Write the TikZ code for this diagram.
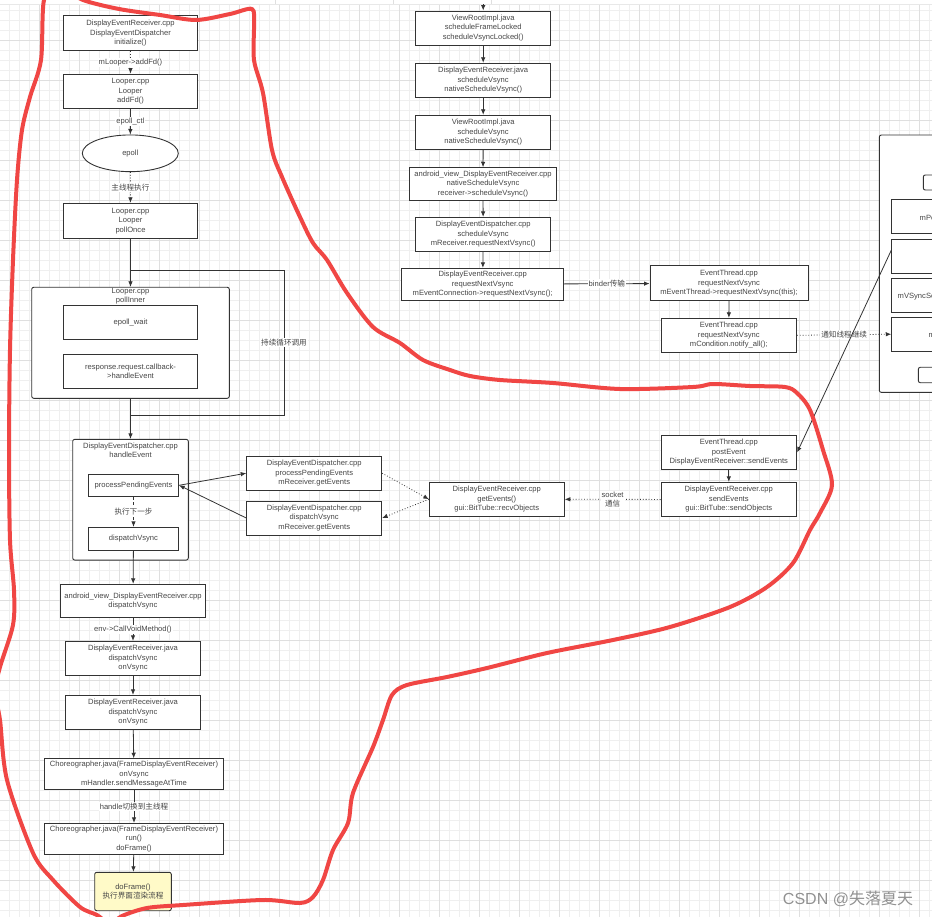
\documentclass[tikz,border=0pt]{standalone}
\usepackage{fontspec}
\setmainfont{Liberation Sans}
\newfontfamily\cjk{Noto Sans CJK SC}
\usetikzlibrary{shapes.geometric,arrows.meta}
\definecolor{boxline}{RGB}{51,51,51}
\definecolor{boxtext}{RGB}{70,70,70}
\definecolor{gridminor}{RGB}{239,239,239}
\definecolor{gridmajor}{RGB}{223,223,223}
\definecolor{redmark}{RGB}{240,70,68}
\definecolor{notefill}{RGB}{255,250,200}
\definecolor{watermark}{RGB}{145,145,145}
\tikzstyle{box}=[rectangle, draw=boxline, line width=.9pt, fill=white, align=center, inner sep=0pt, minimum height=34pt, text=boxtext, font=\fontsize{7.6}{9.5}\selectfont]
\tikzstyle{group}=[box, rounded corners=2pt]
\tikzstyle{flow}=[-{Latex[length=5.5pt,width=4.5pt]}, line width=.8pt, color=boxline]
\tikzstyle{lbl}=[fill=white, inner sep=1pt, text=boxtext, align=center, font=\fontsize{7.6}{9.5}\selectfont]
\begin{document}
\begin{tikzpicture}[x=1pt,y=-1pt]
  \useasboundingbox (0,0) rectangle (932,917);
  \clip (0,0) rectangle (932,917);

  %% Grid paper
  \fill[white] (0,0) rectangle (932,917);
  \foreach \x in {-0.7,9.3,...,935} \draw[gridminor,line width=.8pt] (\x,5) -- (\x,917);
  \foreach \y in {10,20,...,915} \draw[gridminor,line width=.8pt] (0,\y) -- (932,\y);
  \foreach \x in {39.3,79.3,...,935} \draw[gridmajor,line width=.8pt] (\x,5) -- (\x,917);
  \foreach \y in {40,80,...,915} \draw[gridmajor,line width=.8pt] (0,\y) -- (932,\y);
  \draw[gridmajor!80!black!30,line width=.8pt] (0,4.5) -- (932,4.5);
  \foreach \x in {275,393,491} \draw[gridmajor,line width=.8pt] (\x,0) -- (\x,4.5);

  %% Main thread column
  \draw (130.5,33.3) node[box, minimum width=134.4, minimum height=34.7] (L1) {DisplayEventReceiver.cpp\\DisplayEventDispatcher\\initialize()};
  \draw (130.5,91.2) node[box, minimum width=134.4, minimum height=34.3] (L2) {Looper.cpp\\Looper\\addFd()};
  \draw (130.3,153.3) node[box, ellipse, minimum width=96, minimum height=36.7] (L3) {epoll};
  \draw (130.5,220.8) node[box, minimum width=134.4, minimum height=35] (L4) {Looper.cpp\\Looper\\pollOnce};

  \draw (130.5,342.8) node[group, minimum width=197.6, minimum height=111] (G1) {};
  \draw (130.5,287.8) node[lbl, fill=none, inner sep=0pt, anchor=north] (G1t) {Looper.cpp\\pollInner};
  \draw (130.5,322.5) node[box, minimum width=134.4, minimum height=33.6] (G11) {epoll\_wait};
  \draw (130.5,371.3) node[box, minimum width=134.4, minimum height=34] (G12) {response.request.callback-\\>handleEvent};

  \draw (130.5,499.7) node[group, minimum width=115.6, minimum height=120.7] (G2) {};
  \draw (130.5,442.3) node[lbl, fill=none, inner sep=0pt, anchor=north] (G2t) {DisplayEventDispatcher.cpp\\handleEvent};
  \draw (133.5,485.3) node[box, minimum width=90.4, minimum height=22.7] (G21) {processPendingEvents};
  \draw (133.5,539) node[box, minimum width=90.4, minimum height=23.4] (G22) {dispatchVsync};

  \draw (133,600.8) node[box, minimum width=145.4, minimum height=33] (L5) {android\_view\_DisplayEventReceiver.cpp\\dispatchVsync};
  \draw (133,658.5) node[box, minimum width=135.4, minimum height=34.4] (L6) {DisplayEventReceiver.java\\dispatchVsync\\onVsync};
  \draw (133,712.5) node[box, minimum width=135.4, minimum height=34.4] (L7) {DisplayEventReceiver.java\\dispatchVsync\\onVsync};
  \draw (134,774.2) node[box, minimum width=179.4, minimum height=31] (L8) {Choreographer.java(FrameDisplayEventReceiver)\\onVsync\\mHandler.sendMessageAtTime};
  \draw (134,839) node[box, minimum width=179.4, minimum height=31.4] (L9) {Choreographer.java(FrameDisplayEventReceiver)\\run()\\doFrame()};
  \draw (133,891.5) node[box, rounded corners=2pt, fill=notefill, minimum width=76.6, minimum height=38.4] (L10) {doFrame()\\{\cjk 执行界面渲染流程}};

  %% Request column
  \coordinate (M0) at (483.2,4.5);
  \draw (483.2,28) node[box, minimum width=135] (M1) {ViewRootImpl.java\\scheduleFrameLocked\\scheduleVsyncLocked()};
  \draw (483.2,80.3) node[box, minimum width=135] (M2) {DisplayEventReceiver.java\\scheduleVsync\\nativeScheduleVsync()};
  \draw (483.2,132.3) node[box, minimum width=135] (M3) {ViewRootImpl.java\\scheduleVsync\\nativeScheduleVsync()};
  \draw (483,184) node[box, minimum width=147.4, minimum height=32.6] (M4) {android\_view\_DisplayEventReceiver.cpp\\nativeScheduleVsync\\receiver->scheduleVsync()};
  \draw (483.2,234.2) node[box, minimum width=135, minimum height=33.7] (M5) {DisplayEventDispatcher.cpp\\scheduleVsync\\mReceiver.requestNextVsync()};
  \draw (482.7,284.2) node[box, minimum width=162, minimum height=31.7] (M6) {DisplayEventReceiver.cpp\\requestNextVsync\\mEventConnection->requestNextVsync();};

  %% Receive side
  \draw (314.2,473.2) node[box, minimum width=135, minimum height=34.3] (S1) {DisplayEventDispatcher.cpp\\processPendingEvents\\mReceiver.getEvents};
  \draw (314.2,518) node[box, minimum width=135] (S2) {DisplayEventDispatcher.cpp\\dispatchVsync\\mReceiver.getEvents};
  \draw (496.8,499.2) node[box, minimum width=135, minimum height=33.7] (S3) {DisplayEventReceiver.cpp\\getEvents()\\gui::BitTube::recvObjects};

  %% EventThread
  \draw (729,283.3) node[box, minimum width=158, minimum height=34.7] (T1) {EventThread.cpp\\requestNextVsync\\mEventThread->requestNextVsync(this);};
  \draw (728.8,335.3) node[box, minimum width=135.7] (T2) {EventThread.cpp\\requestNextVsync\\mCondition.notify\_all();};
  \draw (728.8,452.5) node[box, minimum width=135.7, minimum height=34.4] (T3) {EventThread.cpp\\postEvent\\DisplayEventReceiver::sendEvents};
  \draw (728.8,499.5) node[box, minimum width=135.7, minimum height=34.4] (T4) {DisplayEventReceiver.cpp\\sendEvents\\gui::BitTube::sendObjects};

  %% Thread loop panel (cut at the edge)
  \draw (960,263.7) node[group, minimum width=161.4, minimum height=257.3] (R0) {};
  \draw (975,182.5) node[group, minimum width=103.4, minimum height=15] (R1) {};
  \draw (960,216.2) node[box, minimum width=136.6, minimum height=34.3] (R2) {};
  \draw (960,256.3) node[box, minimum width=136.6, minimum height=34] (R3) {};
  \draw (960,295.5) node[box, minimum width=136.6, minimum height=34.4] (R4) {};
  \draw (960,334.2) node[box, minimum width=136.6, minimum height=33.7] (R5) {};
  \draw (975,375) node[group, minimum width=113.4, minimum height=15.4] (R6) {};
  \draw (919.5,217.5) node[lbl, fill=none, inner sep=0pt, anchor=west] {mPo};
  \draw (897.5,296.5) node[lbl, fill=none, inner sep=0pt, anchor=west] {mVSyncSc};
  \draw (928.5,335) node[lbl, fill=none, inner sep=0pt, anchor=west] {m};

  %% Main thread flow
  \draw[flow, dotted] (L1) -- node[lbl]{mLooper->addFd()} (L2);
  \draw[flow] (L2) -- node[lbl]{epoll\_ctl} (L3);
  \draw[flow, dotted] (L3) -- node[lbl]{{\cjk 主线程执行}} (L4);
  \draw[flow] (L4) -- (G1);
  \coordinate (P1) at (130.5,270);
  \coordinate (P2) at (130.5,415);
  \coordinate (P3) at (284,415);
  \coordinate (P4) at (284,270);
  \draw[line width=.8pt, color=boxline] (P2) -- (P3) -- node[lbl]{{\cjk 持续循环调用}} (P4) -- (P1);
  \draw[flow] (G1) -- (G2);
  \draw[flow, densely dashed] (G21) -- node[lbl]{{\cjk 执行下一步}} (G22);
  \draw[flow] (G22) -- (L5);
  \draw[flow] (L5) -- node[lbl]{env->CallVoidMethod()} (L6);
  \draw[flow] (L6) -- (L7);
  \draw[flow] (L7) -- (L8);
  \draw[flow] (L8) -- node[lbl]{handle{\cjk 切换到主线程}} (L9);
  \draw[flow] (L9) -- (L10);

  \draw[flow] (G21.east) -- (S1.west);
  \draw[flow] (S2.west) -- (G21.east);
  \draw[flow, dotted] (S1.east) -- (S3.west);
  \draw[flow, dotted] (S3.west) -- (S2.east);

  %% Request flow
  \draw[flow] (M0) -- (M1);
  \draw[flow] (M1) -- (M2);
  \draw[flow] (M2) -- (M3);
  \draw[flow] (M3) -- (M4);
  \draw[flow] (M4) -- (M5);
  \draw[flow] (M5) -- (M6);
  \draw[flow] (M6) -- node[lbl]{binder{\cjk 传输}} (T1);
  \draw[flow] (T1) -- (T2);
  \draw[flow, dotted] (T2.east) -- node[lbl]{{\cjk 通知线程继续}} (R5.west);
  \draw[flow] ([yshift=6pt]R3.west) -- (T3.east);
  \draw[flow] (T3) -- (T4);
  \draw[flow, dotted] (T4) -- node[lbl]{socket\\{\cjk 通信}} (S3);

  %% Hand drawn mark
  \draw[redmark, line width=4pt, line cap=round, line join=round] plot[smooth cycle, tension=0.5] coordinates {
    (83,0) (119,9) (160,15) (196,20) (230,14) (252,9) (254,25) (254,60) (263,93) (272,150) (282,177)
    (300,217) (313,243) (327,260) (347,293) (373,327) (400,343) (423,360) (450,370) (470,376)
    (500,380) (553,383) (620,389) (693,387) (713,384) (750,386) (785,387) (797,393) (810,410)
    (823,450) (832,485) (820,513) (810,530) (793,563) (767,587) (730,607) (670,627) (613,640)
    (547,653) (487,668) (447,677) (407,685) (392,695) (383,720) (373,747) (353,793) (348,823)
    (333,850) (323,880) (313,897) (300,903) (263,900) (183,905) (147,908) (122,916) (110,924)
    (97,915) (80,907) (53,880) (33,853) (7,780) (0,720) (-5,692) (0,667) (13,625) (14,590)
    (10,540) (9,450) (10,350) (13,260) (17,180) (22,130) (30,97) (41,60) (44,0) (58,-14)};

  %% Watermark
  \draw (848,899) node[text=watermark, inner sep=0pt, font=\fontsize{16}{18}\selectfont] (W) {CSDN @{\cjk 失落夏天}};
\end{tikzpicture}
\end{document}
